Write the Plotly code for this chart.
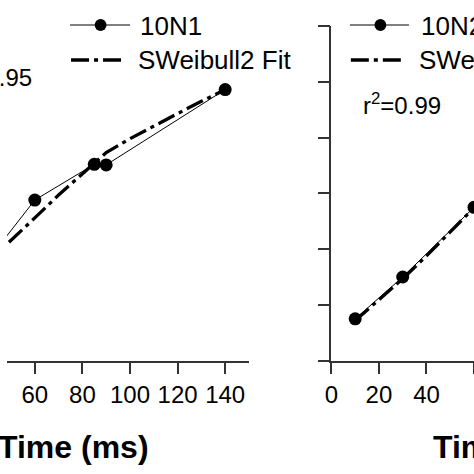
import plotly.graph_objects as go

W = H = 474

# ---- data ----
left_x = [10, 30, 60, 85, 90, 140]
left_y = [0.7, 1.24, 2.88, 3.52, 3.51, 4.86]
left_fit_x = [10, 20, 30, 40, 50, 60, 70, 80, 90, 100, 110, 120, 130, 140]
left_fit_y = [0.55, 0.95, 1.35, 1.75, 2.16, 2.56, 2.97, 3.36, 3.73, 3.98, 4.21, 4.43, 4.65, 4.86]

right_x = [10, 30, 60]
right_y = [0.75, 1.5, 2.75]
right_fit_x = [10, 20, 30, 40, 50, 60, 70]
right_fit_y = [0.72, 1.1, 1.47, 1.88, 2.3, 2.74, 3.2]

left_name = "10N1"
right_name = "10N2"
fit_name = "SWeibull2 Fit"
left_r2 = "r<sup>2</sup>=0.95"
right_r2 = "r<sup>2</sup>=0.99"
x_title = "<b>Time (ms)</b>"
x_ticks = [0, 20, 40, 60, 80, 100, 120, 140]
y_ticks = [0, 1, 2, 3, 4, 5, 6]

FONT = "Liberation Sans, Arial, sans-serif"
DASH = "18px,5px,4px,5px"


def px(x):
    return x / W


def py(y):
    return (H - y) / H


fig = go.Figure()

fig.add_trace(go.Scatter(x=left_fit_x, y=left_fit_y, mode="lines", line=dict(color="black", width=3.3, dash=DASH),
                         xaxis="x", yaxis="y", showlegend=False))
fig.add_trace(go.Scatter(x=left_x, y=left_y, mode="lines+markers", line=dict(color="black", width=1),
                         marker=dict(color="black", size=13), cliponaxis=False,
                         xaxis="x", yaxis="y", showlegend=False))
fig.add_trace(go.Scatter(x=right_fit_x, y=right_fit_y, mode="lines", line=dict(color="black", width=3.3, dash=DASH),
                         xaxis="x2", yaxis="y2", showlegend=False))
fig.add_trace(go.Scatter(x=right_x, y=right_y, mode="lines+markers", line=dict(color="black", width=1),
                         marker=dict(color="black", size=13), cliponaxis=False,
                         xaxis="x2", yaxis="y2", showlegend=False))

y_dom = [py(360.7), py(26)]
axis_common = dict(showline=True, linecolor="#333", linewidth=1.5, ticks="outside", ticklen=12,
                   tickwidth=1.5, tickcolor="#333", showgrid=False, zeroline=False,
                   tickfont=dict(family=FONT, size=24, color="black"))

fig.update_layout(
    width=W, height=H, margin=dict(l=0, r=0, t=0, b=0),
    paper_bgcolor="white", plot_bgcolor="white",
    xaxis=dict(domain=[0, px(245.6)], range=[48.32, 150], tickvals=x_ticks, anchor="y", **axis_common),
    yaxis=dict(domain=y_dom, range=[0, 6], visible=False, anchor="x"),
    xaxis2=dict(domain=[px(329.3), 1], range=[0, 60], tickvals=x_ticks, anchor="y2", **axis_common),
    yaxis2=dict(domain=y_dom, range=[0, 6], tickvals=y_ticks, showticklabels=False, anchor="x2",
                **{k: v for k, v in axis_common.items() if k != "tickfont"}),
)

anns = []
shapes = []


def legend(x0, x1, xm, xt, name):
    shapes.append(dict(type="line", xref="paper", yref="paper", x0=px(x0), x1=px(x1), y0=py(25), y1=py(25),
                       line=dict(color="black", width=1)))
    shapes.append(dict(type="circle", xref="paper", yref="paper", x0=px(xm - 6), x1=px(xm + 6),
                       y0=py(19), y1=py(31), fillcolor="black", line=dict(color="black", width=0)))
    shapes.append(dict(type="line", xref="paper", yref="paper", x0=px(x0 + 1), x1=px(x1 - 8), y0=py(60), y1=py(60),
                       line=dict(color="black", width=3.3, dash=DASH)))
    anns.append(dict(text=name, x=px(xt), y=py(26), xref="paper", yref="paper", xanchor="left", yanchor="middle",
                     showarrow=False, font=dict(family=FONT, size=26, color="black")))
    anns.append(dict(text=fit_name, x=px(xt - 2), y=py(60), xref="paper", yref="paper", xanchor="left",
                     yanchor="middle", showarrow=False, font=dict(family=FONT, size=26, color="black")))


legend(64, 125, 95, 133, left_name)
legend(348, 408, 379, 418, right_name)

anns.append(dict(text=left_r2, x=px(27), y=py(76), xref="paper", yref="paper", xanchor="right", yanchor="middle",
                 showarrow=False, font=dict(family=FONT, size=24, color="black")))
anns.append(dict(text=right_r2, x=px(359.5), y=py(104), xref="paper", yref="paper", xanchor="left",
                 yanchor="middle", showarrow=False, font=dict(family=FONT, size=24, color="black")))

for cx in (67.5, 509.5):
    anns.append(dict(text=x_title, x=px(cx), y=py(447), xref="paper", yref="paper", xanchor="center",
                     yanchor="middle", showarrow=False, font=dict(family=FONT, size=32, color="black")))

fig.update_layout(annotations=anns, shapes=shapes)
fig.write_html("out.html")
